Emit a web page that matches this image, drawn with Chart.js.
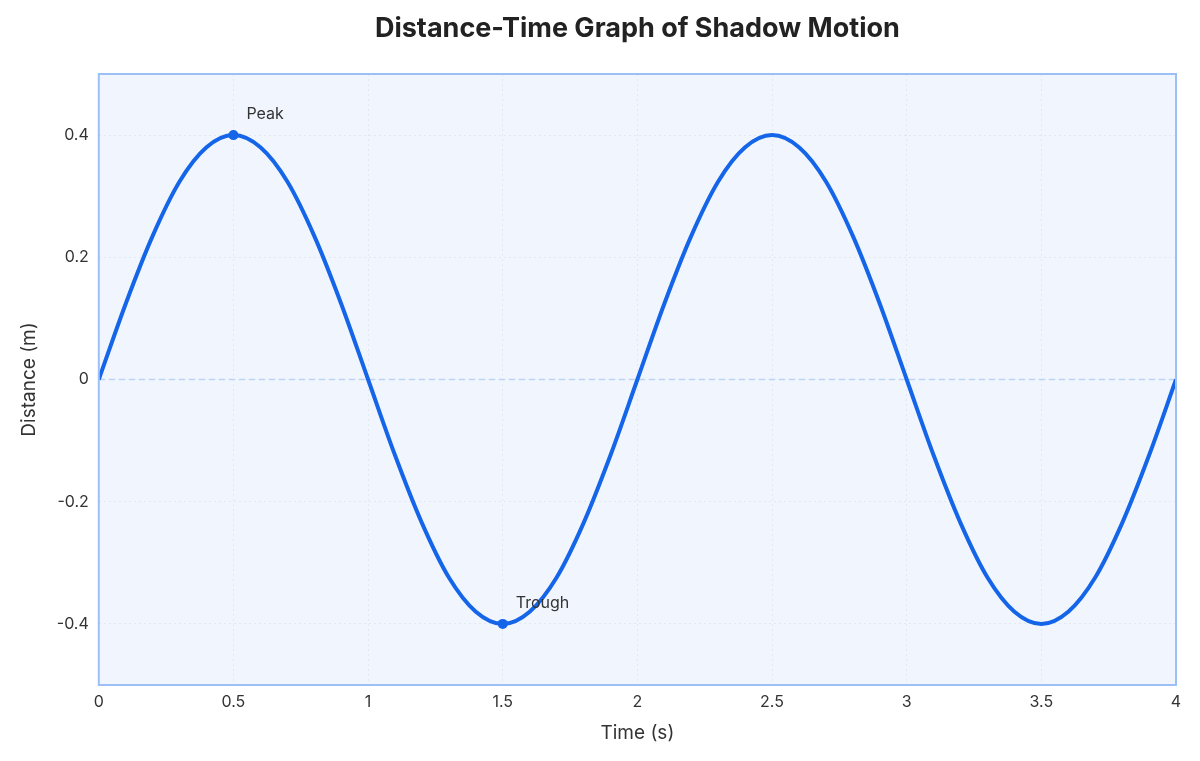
<!DOCTYPE html>
<html>
<head>
<meta charset="utf-8">
<script src="https://cdn.jsdelivr.net/npm/chart.js@4/dist/chart.umd.min.js"></script>
<style>
  html, body { margin: 0; padding: 0; background: #fff; }
  #wrap { width: 1200px; height: 761px; }
</style>
</head>
<body>
<div id="wrap"><canvas id="chart"></canvas></div>
<script>
// time samples (s) and distances (m)
const times = [0, 0.1, 0.2, 0.3, 0.4, 0.5, 0.6, 0.7, 0.8, 0.9, 1.0,
  1.1, 1.2, 1.3, 1.4, 1.5, 1.6, 1.7, 1.8, 1.9, 2.0,
  2.1, 2.2, 2.3, 2.4, 2.5, 2.6, 2.7, 2.8, 2.9, 3.0,
  3.1, 3.2, 3.3, 3.4, 3.5, 3.6, 3.7, 3.8, 3.9, 4.0];
const distances = [0, 0.124, 0.235, 0.324, 0.380, 0.400, 0.380, 0.324, 0.235, 0.124, 0,
  -0.124, -0.235, -0.324, -0.380, -0.400, -0.380, -0.324, -0.235, -0.124, 0,
  0.124, 0.235, 0.324, 0.380, 0.400, 0.380, 0.324, 0.235, 0.124, 0,
  -0.124, -0.235, -0.324, -0.380, -0.400, -0.380, -0.324, -0.235, -0.124, 0];
const markTimes = [0.5, 1.5];
const markDistances = [0.4, -0.4];
const markLabels = ['Peak', 'Trough'];
const yTicks = [-0.4, -0.2, 0, 0.2, 0.4];
const titleText = 'Distance-Time Graph of Shadow Motion';

const FONT = 'Inter, "Noto Sans", sans-serif';

const decorPlugin = {
  id: 'decor',
  beforeDraw(chart) {
    const {ctx, chartArea: a} = chart;
    ctx.save();
    ctx.fillStyle = '#f1f6fe';
    ctx.fillRect(a.left, a.top, a.right - a.left, a.bottom - a.top);
    ctx.restore();
  },
  beforeDatasetsDraw(chart) {
    const {ctx, chartArea: a, scales} = chart;
    const y0 = scales.y.getPixelForValue(0);
    ctx.save();
    ctx.strokeStyle = '#bcd3f3';
    ctx.lineWidth = 1.5;
    ctx.setLineDash([6, 4]);
    ctx.beginPath();
    ctx.moveTo(a.left, y0);
    ctx.lineTo(a.right, y0);
    ctx.stroke();
    ctx.restore();
  },
  afterDraw(chart) {
    const {ctx, chartArea: a, scales} = chart;
    ctx.save();
    ctx.strokeStyle = '#9cc0f6';
    ctx.lineWidth = 2;
    ctx.strokeRect(a.left, a.top, a.right - a.left, a.bottom - a.top);
    // title centred over the plot area
    ctx.fillStyle = '#222';
    ctx.font = 'bold 27px ' + FONT;
    ctx.textAlign = 'center';
    ctx.textBaseline = 'middle';
    ctx.fillText(titleText, (a.left + a.right) / 2, 29);
    ctx.fillStyle = '#333';
    ctx.font = '16px ' + FONT;
    ctx.textAlign = 'left';
    ctx.textBaseline = 'alphabetic';
    markLabels.forEach((lab, i) => {
      const px = scales.x.getPixelForValue(markTimes[i]);
      const py = scales.y.getPixelForValue(markDistances[i]);
      ctx.fillText(lab, px + 13, py - 16);
    });
    ctx.restore();
  }
};

new Chart(document.getElementById('chart'), {
  type: 'line',
  data: {
    datasets: [{
      label: 'Distance',
      data: times.map((t, i) => ({x: t, y: distances[i]})),
      borderColor: '#1565e9',
      borderWidth: 4,
      tension: 0.4,
      cubicInterpolationMode: 'monotone',
      pointRadius: 0,
      fill: false
    }, {
      label: 'Marks',
      data: markTimes.map((t, i) => ({x: t, y: markDistances[i]})),
      showLine: false,
      pointRadius: 5,
      pointBackgroundColor: '#1565e9',
      pointBorderWidth: 0
    }]
  },
  options: {
    responsive: true,
    maintainAspectRatio: false,
    animation: false,
    layout: { padding: { left: 14, right: 24, top: 74, bottom: 16 } },
    plugins: {
      legend: { display: false },
      tooltip: { enabled: false },
      title: { display: false }
    },
    scales: {
      x: {
        type: 'linear',
        min: 0, max: 4,
        ticks: { stepSize: 0.5, color: '#333', font: { family: FONT, size: 16 }, padding: 8,
          callback: (v) => String(v) },
        grid: { color: '#e2e8f0', drawTicks: false, tickLength: 0 },
        border: { display: false, dash: [2, 3] },
        title: { display: true, text: 'Time (s)', color: '#333', font: { family: FONT, size: 19 }, padding: { top: 2, bottom: 0 } }
      },
      y: {
        min: -0.5, max: 0.5,
        afterBuildTicks: (s) => { s.ticks = yTicks.map(v => ({value: v})); },
        ticks: { color: '#333', font: { family: FONT, size: 16 }, padding: 10,
          callback: (v) => String(Math.round(v * 10) / 10) },
        grid: { color: '#e2e8f0', drawTicks: false },
        border: { display: false, dash: [2, 3] },
        title: { display: true, text: 'Distance (m)', color: '#333', font: { family: FONT, size: 19 }, padding: { bottom: 6 } }
      }
    }
  },
  plugins: [decorPlugin]
});
</script>
</body>
</html>
